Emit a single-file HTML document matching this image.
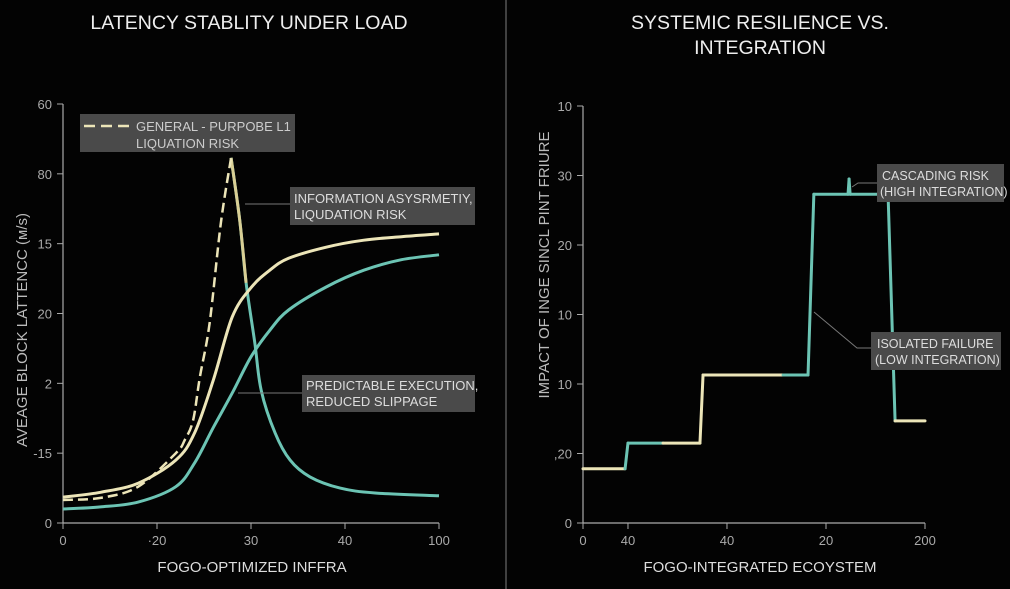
<!DOCTYPE html>
<html><head><meta charset="utf-8"><style>
html,body{margin:0;padding:0;background:#030303;}
svg{display:block;font-family:"Liberation Sans",sans-serif;}
</style></head><body>
<svg id="c" width="1010" height="589" viewBox="0 0 1010 589">
<rect width="1010" height="589" fill="#030303"/>
<line x1="506" y1="0" x2="506" y2="589" stroke="#555" stroke-width="1.5"/>
<text x="249" y="29" text-anchor="middle" fill="#eee" font-size="19.5">LATENCY STABLITY UNDER LOAD</text>
<text x="760" y="29" text-anchor="middle" fill="#eee" font-size="19.5">SYSTEMIC RESILIENCE VS.</text>
<text x="760" y="54" text-anchor="middle" fill="#eee" font-size="19.5">INTEGRATION</text>
<text x="252" y="572" text-anchor="middle" fill="#ddd" font-size="15">FOGO-OPTIMIZED INFFRA</text>
<text x="760" y="572" text-anchor="middle" fill="#ddd" font-size="15">FOGO-INTEGRATED ECOYSTEM</text>
<text transform="translate(27,330) rotate(-90)" text-anchor="middle" fill="#bbb" font-size="15">AVEAGE BLOCK LATTENCC (ᴍ/s)</text>
<text transform="translate(549,265) rotate(-90)" text-anchor="middle" fill="#bbb" font-size="15">IMPACT OF INGE SINCL PINT FRIURE</text>
<g id="left"></g><g id="right"></g>
</svg>
<script>
// Left chart data
const leftYTicks=[0,10,20,30,40,50,60];
const leftYLabels=["0","-15","2","20","15","80","60"];
const leftXTicks=[0,25,50,75,100];
const leftXLabels=["0","·20","30","40","100"];
const leftX=[0,10,20,30,35,40,45,50,55,60,70,80,90,100];
const creamSolid=[3.7,4.4,5.7,9.0,12.9,20.5,29.5,33.7,36.2,37.9,39.5,40.5,41,41.4];
const tealSigmoid=[2.0,2.3,3.0,5.2,8.6,13.7,18.6,23.8,27.6,30.5,33.8,36.2,37.7,38.4];
const spikeRiseX=[0,10,20,30,32.4,34.6,36.4,39,42,44.7];
const spikeRiseY=[3.3,3.6,5.2,10,11.9,14.7,20.9,28.6,43,52.3];
const spikeFallX=[44.7,47,48.7,51,52.7,56.4,60.4,65.7,73.7,83,100];
const spikeFallY=[52.3,43.4,34.4,25.8,19,12.9,9.0,6.6,5.0,4.3,3.9];
// Right chart data
const rightYTicks=[0,10,20,30,40,50,60];
const rightYLabels=["0",",20","10","10","20","30","10"];
const rightXTicks=[0,26.3,84.2,142.1,200];
const rightXLabels=["0","40","40","20","200"];
const stepX=[0,24.6,26.3,46.8,68.4,70.2,117,131.6,135,155,155.6,156.2,178.4,182.5,200];
const stepY=[7.8,7.8,11.5,11.5,11.5,21.3,21.3,21.3,47.3,47.3,49.5,47.3,47.3,14.7,14.7];
const stepColor=["c","t","t","c","c","c","t","t","t","t","t","t","t","c"];

const NS="http://www.w3.org/2000/svg";
const CREAM="#ece5b8",TEAL="#6cc4b4";
function mk(p,tag,a){const e=document.createElementNS(NS,tag);for(const k in a)e.setAttribute(k,a[k]);p.appendChild(e);return e;}
function smooth(xs,ys,sx,sy){
 const P=xs.map((x,i)=>[sx(x),sy(ys[i])]);
 let d="M"+P[0][0].toFixed(1)+","+P[0][1].toFixed(1);
 for(let i=0;i<P.length-1;i++){
  const p0=P[Math.max(0,i-1)],p1=P[i],p2=P[i+1],p3=P[Math.min(P.length-1,i+2)];
  const c1=[p1[0]+(p2[0]-p0[0])/6,p1[1]+(p2[1]-p0[1])/6];
  const c2=[p2[0]-(p3[0]-p1[0])/6,p2[1]-(p3[1]-p1[1])/6];
  d+="C"+c1.map(v=>v.toFixed(1)).join(",")+" "+c2.map(v=>v.toFixed(1)).join(",")+" "+p2[0].toFixed(1)+","+p2[1].toFixed(1);
 }
 return d;
}

// LEFT
const L=document.getElementById('left');
const lx=v=>63+v*3.76, ly=v=>523-v*(419/60);
let e=mk(L,'line',{x1:63,y1:104,x2:63,y2:523,stroke:'#aaa','stroke-width':1.2});


e=mk(L,'line',{x1:63,y1:523,x2:439,y2:523,stroke:'#aaa','stroke-width':1.2});


leftYTicks.forEach((t,i)=>{mk(L,'line',{x1:57,x2:63,y1:ly(t),y2:ly(t),stroke:'#aaa'});
 const tx=mk(L,'text',{x:52,y:ly(t)+5,'text-anchor':'end',fill:'#aaa','font-size':13});tx.textContent=leftYLabels[i];
 
 });
leftXTicks.forEach((t,i)=>{mk(L,'line',{x1:lx(t),x2:lx(t),y1:523,y2:529,stroke:'#aaa'});
 const tx=mk(L,'text',{x:lx(t),y:545,'text-anchor':'middle',fill:'#aaa','font-size':13});tx.textContent=leftXLabels[i];
 
 });
e=mk(L,'path',{d:smooth(spikeFallX,spikeFallY,lx,ly),fill:'none',stroke:TEAL,'stroke-width':3});


e=mk(L,'path',{d:smooth(spikeFallX.slice(0,3),spikeFallY.slice(0,3),lx,ly),fill:'none',stroke:'#d9cf95','stroke-width':3});


e=mk(L,'path',{d:smooth(leftX,tealSigmoid,lx,ly),fill:'none',stroke:TEAL,'stroke-width':3});


e=mk(L,'path',{d:smooth(leftX,creamSolid,lx,ly),fill:'none',stroke:CREAM,'stroke-width':3});


e=mk(L,'path',{d:smooth(spikeRiseX,spikeRiseY,lx,ly),fill:'none',stroke:CREAM,'stroke-width':2.5,'stroke-dasharray':'10,5'});


// legend
const lg=mk(L,'g',{});


mk(lg,'rect',{x:80,y:114,width:215,height:38,fill:'#4a4a4a'});
mk(lg,'line',{x1:84,y1:126,x2:130,y2:126,stroke:CREAM,'stroke-width':2.5,'stroke-dasharray':'11,6'});
let t=mk(lg,'text',{x:136,y:131,fill:'#ccc','font-size':13});t.textContent="GENERAL - PURPOBE L1";
t=mk(lg,'text',{x:136,y:148,fill:'#ccc','font-size':13});t.textContent="LIQUATION RISK";
// annotations
mk(L,'line',{x1:245,y1:204,x2:290,y2:204,stroke:'#777'});
let g=mk(L,'g',{});
mk(g,'rect',{x:290,y:187,width:185,height:38,fill:'#4a4a4a'});
t=mk(g,'text',{x:294,y:203,fill:'#ddd','font-size':13});t.textContent="INFORMATION ASYSRMETIY,";
t=mk(g,'text',{x:294,y:219,fill:'#ddd','font-size':13});t.textContent="LIQUDATION RISK";
mk(L,'line',{x1:238,y1:393,x2:302,y2:393,stroke:'#777'});
g=mk(L,'g',{});
mk(g,'rect',{x:302,y:375,width:173,height:37,fill:'#4a4a4a'});
t=mk(g,'text',{x:306,y:390,fill:'#ddd','font-size':13});t.textContent="PREDICTABLE EXECUTION,";
t=mk(g,'text',{x:306,y:406,fill:'#ddd','font-size':13});t.textContent="REDUCED SLIPPAGE";

// RIGHT
const R=document.getElementById('right');
const rx=v=>583+v*1.71, ry=v=>523-v*(417/60);
e=mk(R,'line',{x1:583,y1:106,x2:583,y2:523,stroke:'#aaa','stroke-width':1.2});


e=mk(R,'line',{x1:583,y1:523,x2:925,y2:523,stroke:'#aaa','stroke-width':1.2});


rightYTicks.forEach((v,i)=>{mk(R,'line',{x1:577,x2:583,y1:ry(v),y2:ry(v),stroke:'#aaa'});
 const tx=mk(R,'text',{x:572,y:ry(v)+5,'text-anchor':'end',fill:'#aaa','font-size':13});tx.textContent=rightYLabels[i];
 
 });
rightXTicks.forEach((v,i)=>{mk(R,'line',{x1:rx(v),x2:rx(v),y1:523,y2:529,stroke:'#aaa'});
 const tx=mk(R,'text',{x:rx(v),y:545,'text-anchor':'middle',fill:'#aaa','font-size':13});tx.textContent=rightXLabels[i];
 
 });
for(let i=0;i<stepX.length-1;i++){
 const s=mk(R,'line',{x1:rx(stepX[i]),y1:ry(stepY[i]),x2:rx(stepX[i+1]),y2:ry(stepY[i+1]),stroke:stepColor[i]==='c'?CREAM:TEAL,'stroke-width':3,'stroke-linecap':'round'});
 
 
}
mk(R,'polyline',{points:'852,187 858,183 877,183',fill:'none',stroke:'#777'});
g=mk(R,'g',{});
mk(g,'rect',{x:877,y:164,width:127,height:38,fill:'#4a4a4a'});
t=mk(g,'text',{x:882,y:180,fill:'#ddd','font-size':12.5});t.textContent="CASCADING RISK";
t=mk(g,'text',{x:880,y:196,fill:'#ddd','font-size':12.5});t.textContent="(HIGH INTEGRATION)";
mk(R,'polyline',{points:'814,312 857,348 872,348',fill:'none',stroke:'#777'});
g=mk(R,'g',{});
mk(g,'rect',{x:871,y:332,width:130,height:38,fill:'#4a4a4a'});
t=mk(g,'text',{x:877,y:348,fill:'#ddd','font-size':12.5});t.textContent="ISOLATED FAILURE";
t=mk(g,'text',{x:875,y:364,fill:'#ddd','font-size':12.5});t.textContent="(LOW INTEGRATION)";
</script>
</body></html>
